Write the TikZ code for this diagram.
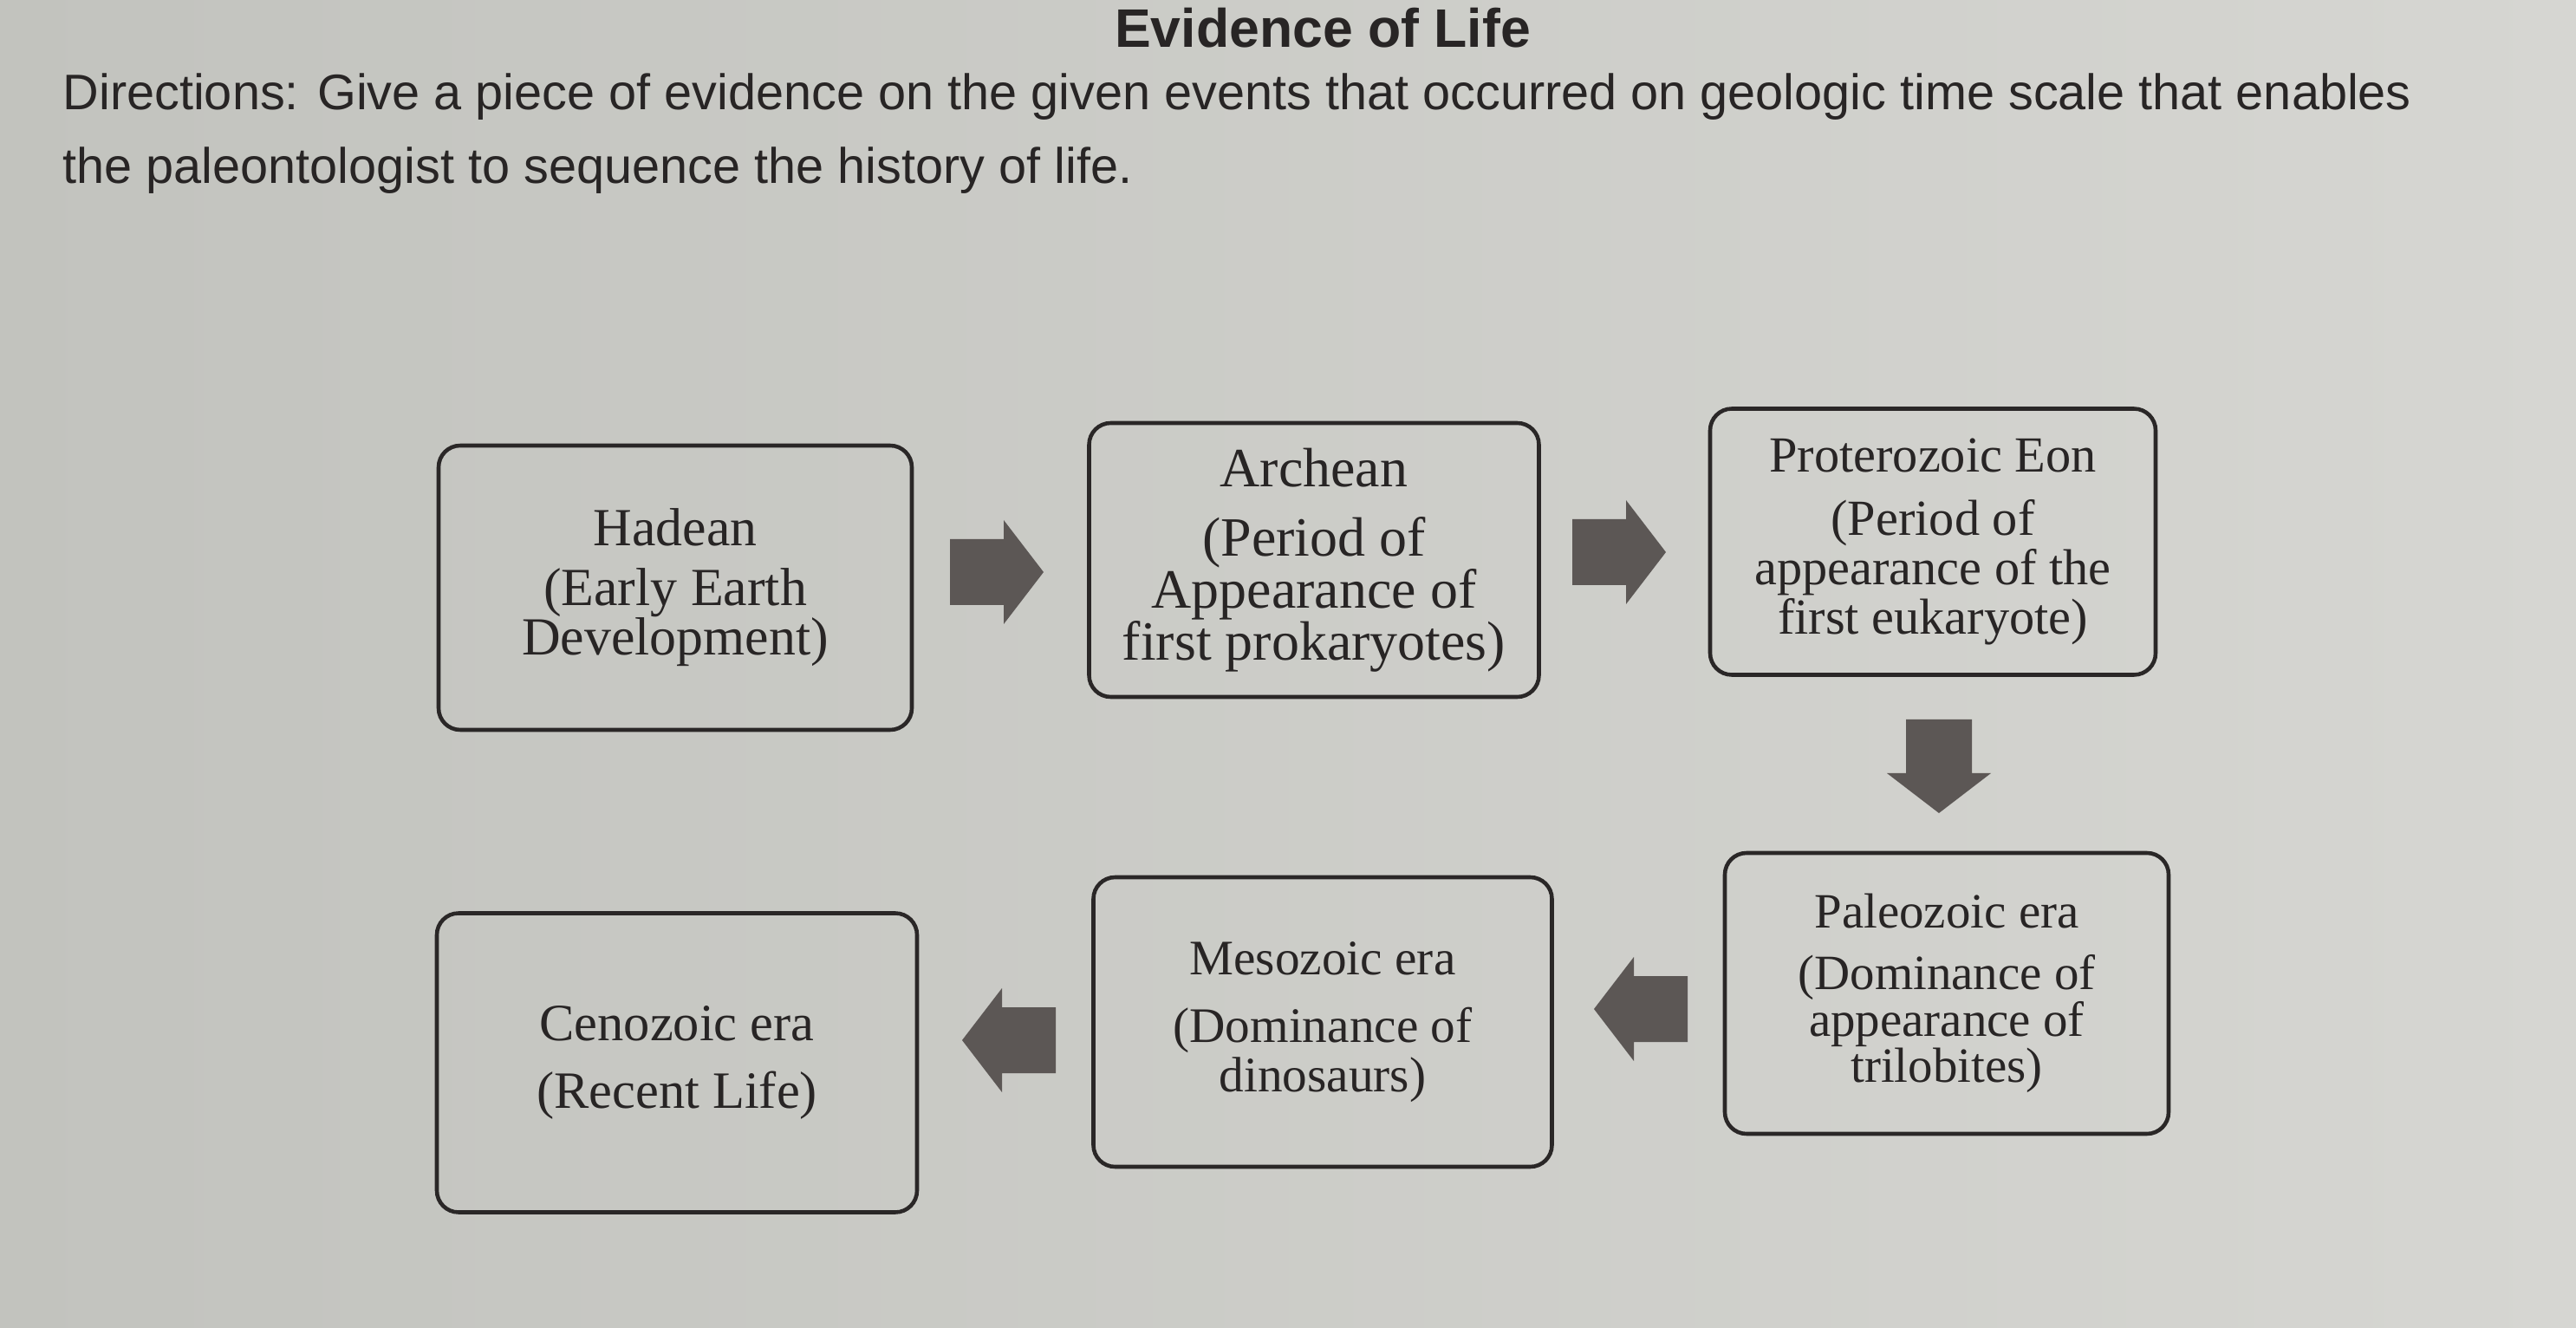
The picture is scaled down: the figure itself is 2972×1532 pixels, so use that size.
\documentclass[tikz,border=0pt]{standalone}
\usepackage{fontspec}
\setmainfont{Liberation Serif}
\newfontfamily\headfont{Liberation Sans}
\definecolor{paperL}{RGB}{194,195,190}
\definecolor{paperR}{RGB}{214,214,210}
\definecolor{ink}{RGB}{40,37,37}
\definecolor{edge}{RGB}{42,39,39}
\definecolor{arrowc}{RGB}{92,87,85}
\begin{document}
\begin{tikzpicture}[x=0.1mm,y=-0.1mm,
  box/.style={draw=edge, line width=1.3pt, rounded corners=2.5mm, align=center, text=ink, inner sep=0pt},
  fs/.style 2 args={font=\fontsize{#1}{#2}\selectfont},
  headline/.style={text=ink, inner sep=0pt, anchor=base west, font=\headfont\fontsize{16.4}{20}\selectfont},
  titletext/.style={text=ink, inner sep=0pt, anchor=base, font=\headfont\bfseries\fontsize{17.8}{20}\selectfont},
  blockarrow/.pic={\fill[arrowc] (-54,-38) -- (8,-38) -- (8,-60) -- (54,0) -- (8,60) -- (8,38) -- (-54,38) -- cycle;}
]
\useasboundingbox (0,0) rectangle (2972,1532);
\shade[left color=paperL, right color=paperR] (0,0) rectangle (2972,1532);

% heading
\node[titletext] (title) at (1526,55) {Evidence of Life};
\node[headline] (dir1) at (72,127) {Directions: Give a piece of evidence on the given events that occurred on geologic time scale that enables};
\node[headline] (dir2) at (72,212) {the paleontologist to sequence the history of life.};

% boxes
\node[box, fs={17.6}{16.4}, minimum width=54.6mm, minimum height=32.8mm] (hadean) at (779,678)
  {Hadean\\[3pt](Early Earth\\Development)};
\node[box, fs={18.2}{17}, minimum width=51.9mm, minimum height=31.6mm] (archean) at (1516,646)
  {Archean\\[6pt](Period of\\Appearance of\\first prokaryotes)};
\node[box, fs={16.6}{14.9}, minimum width=51.4mm, minimum height=30.7mm] (protero) at (2230,625)
  {Proterozoic Eon\\[6pt](Period of\\appearance of the\\first eukaryote)};
\node[box, fs={16.2}{15.2}, minimum width=51.2mm, minimum height=32.4mm] (paleo) at (2246,1146)
  {Paleozoic era\\[5pt](Dominance of\\appearance of\\trilobites)};
\node[box, fs={16.3}{16.2}, minimum width=52.9mm, minimum height=33.4mm] (meso) at (1526,1179)
  {Mesozoic era\\[6pt](Dominance of\\dinosaurs)};
\node[box, fs={17.2}{16.4}, minimum width=55.4mm, minimum height=34.5mm] (ceno) at (781,1226)
  {Cenozoic era\\[6pt](Recent Life)};

% block arrows
\pic (a1) at (1150,660) {blockarrow};
\pic (a2) at (1868,637) {blockarrow};
\pic[rotate=-90] (a3) at (2237,884) {blockarrow};
\pic[rotate=180] (a4) at (1893,1164) {blockarrow};
\pic[rotate=180] (a5) at (1164,1200) {blockarrow};
\end{tikzpicture}
\end{document}
